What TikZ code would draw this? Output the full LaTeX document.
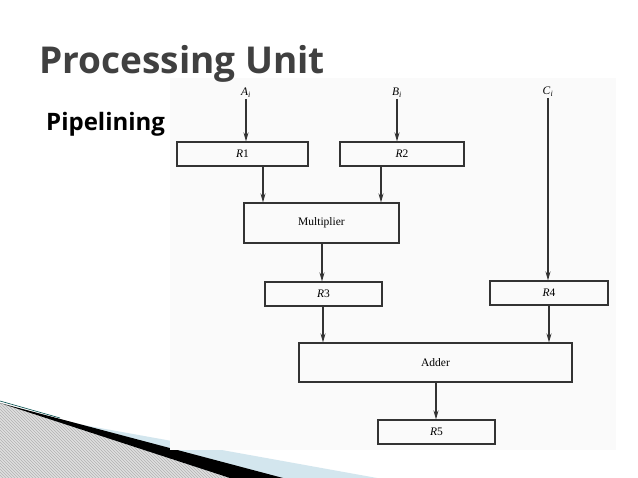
\documentclass[tikz,border=0pt]{standalone}
\usepackage{fontspec}
\setmainfont{Liberation Serif}
\newfontfamily\titlefont{Open Sans}
\usetikzlibrary{arrows.meta,patterns}
\definecolor{titlegray}{HTML}{404040}
\definecolor{linegray}{HTML}{333333}
\definecolor{paleblue}{HTML}{D3E6EE}
\definecolor{scanbg}{HTML}{FAFAFA}
\begin{document}
\begin{tikzpicture}[x=1pt,y=-1pt,
  reg/.style={draw=linegray,line width=1.1pt,inner sep=0pt,font=\fontsize{11.5}{13}\selectfont},
  inp/.style={inner sep=1pt,font=\fontsize{11.5}{13}\selectfont},
  arr/.style={draw=linegray,line width=1.1pt,-{Stealth[length=9pt,width=5pt]}}]
\useasboundingbox (0,0) rectangle (638,478);
\fill[white] (0,0) rectangle (638,478);
% decorative wedges at bottom left
\fill[paleblue] (0,410) -- (377,478) -- (0,478) -- cycle;
\fill[gray!25] (0,403) -- (230,478) -- (0,478) -- cycle;
\fill[pattern=north west lines,pattern color=gray!60] (0,403) -- (230,478) -- (0,478) -- cycle;
\fill[black] (0,403) -- (283,478) -- (230,478) -- cycle;
\draw[teal!60!black,line width=0.6pt] (0,401) -- (60,418);
% scanned figure background
\fill[scanbg] (170,78) rectangle (616,450);
% titles
\node[anchor=base west,inner sep=0pt,text=titlegray,font=\titlefont\bfseries\fontsize{37}{40}\selectfont] (title) at (39,74) {Processing Unit};
\node[anchor=base west,inner sep=0pt,text=black,font=\titlefont\bfseries\fontsize{24}{26}\selectfont] (sub) at (46,131) {Pipelining};
% registers and units
\node[reg,minimum width=131pt,minimum height=24pt] (R1) at (242.5,154) {\textit{R}1};
\node[reg,minimum width=124pt,minimum height=24pt] (R2) at (402,154) {\textit{R}2};
\node[reg,minimum width=155pt,minimum height=40pt] (Mult) at (321.5,223) {Multiplier};
\node[reg,minimum width=117pt,minimum height=24pt] (R3) at (323.5,294) {\textit{R}3};
\node[reg,minimum width=118pt,minimum height=24pt] (R4) at (549,293) {\textit{R}4};
\node[reg,minimum width=273pt,minimum height=39pt] (Adder) at (435.5,362.5) {Adder};
\node[reg,minimum width=117pt,minimum height=24pt] (R5) at (436.5,432) {\textit{R}5};
% inputs
\node[inp] (Ai) at (246,93) {\textit{A}\textsubscript{\textit{i}}};
\node[inp] (Bi) at (397,93) {\textit{B}\textsubscript{\textit{i}}};
\node[inp] (Ci) at (548,92) {\textit{C}\textsubscript{\textit{i}}};
% connector x positions
\coordinate (x1) at (263,0);
\coordinate (x2) at (381,0);
\coordinate (x3) at (322,0);
\coordinate (x4) at (323,0);
\coordinate (x5) at (549,0);
\coordinate (x6) at (436,0);
% connectors
\draw[arr] (Ai.south) -- (Ai |- R1.north);
\draw[arr] (Bi.south) -- (Bi |- R2.north);
\draw[arr] (Ci.south) -- (Ci |- R4.north);
\draw[arr] (R1.south -| x1) -- (Mult.north -| x1);
\draw[arr] (R2.south -| x2) -- (Mult.north -| x2);
\draw[arr] (Mult.south -| x3) -- (R3.north -| x3);
\draw[arr] (R3.south -| x4) -- (Adder.north -| x4);
\draw[arr] (R4.south -| x5) -- (Adder.north -| x5);
\draw[arr] (Adder.south -| x6) -- (R5.north -| x6);
\end{tikzpicture}
\end{document}
